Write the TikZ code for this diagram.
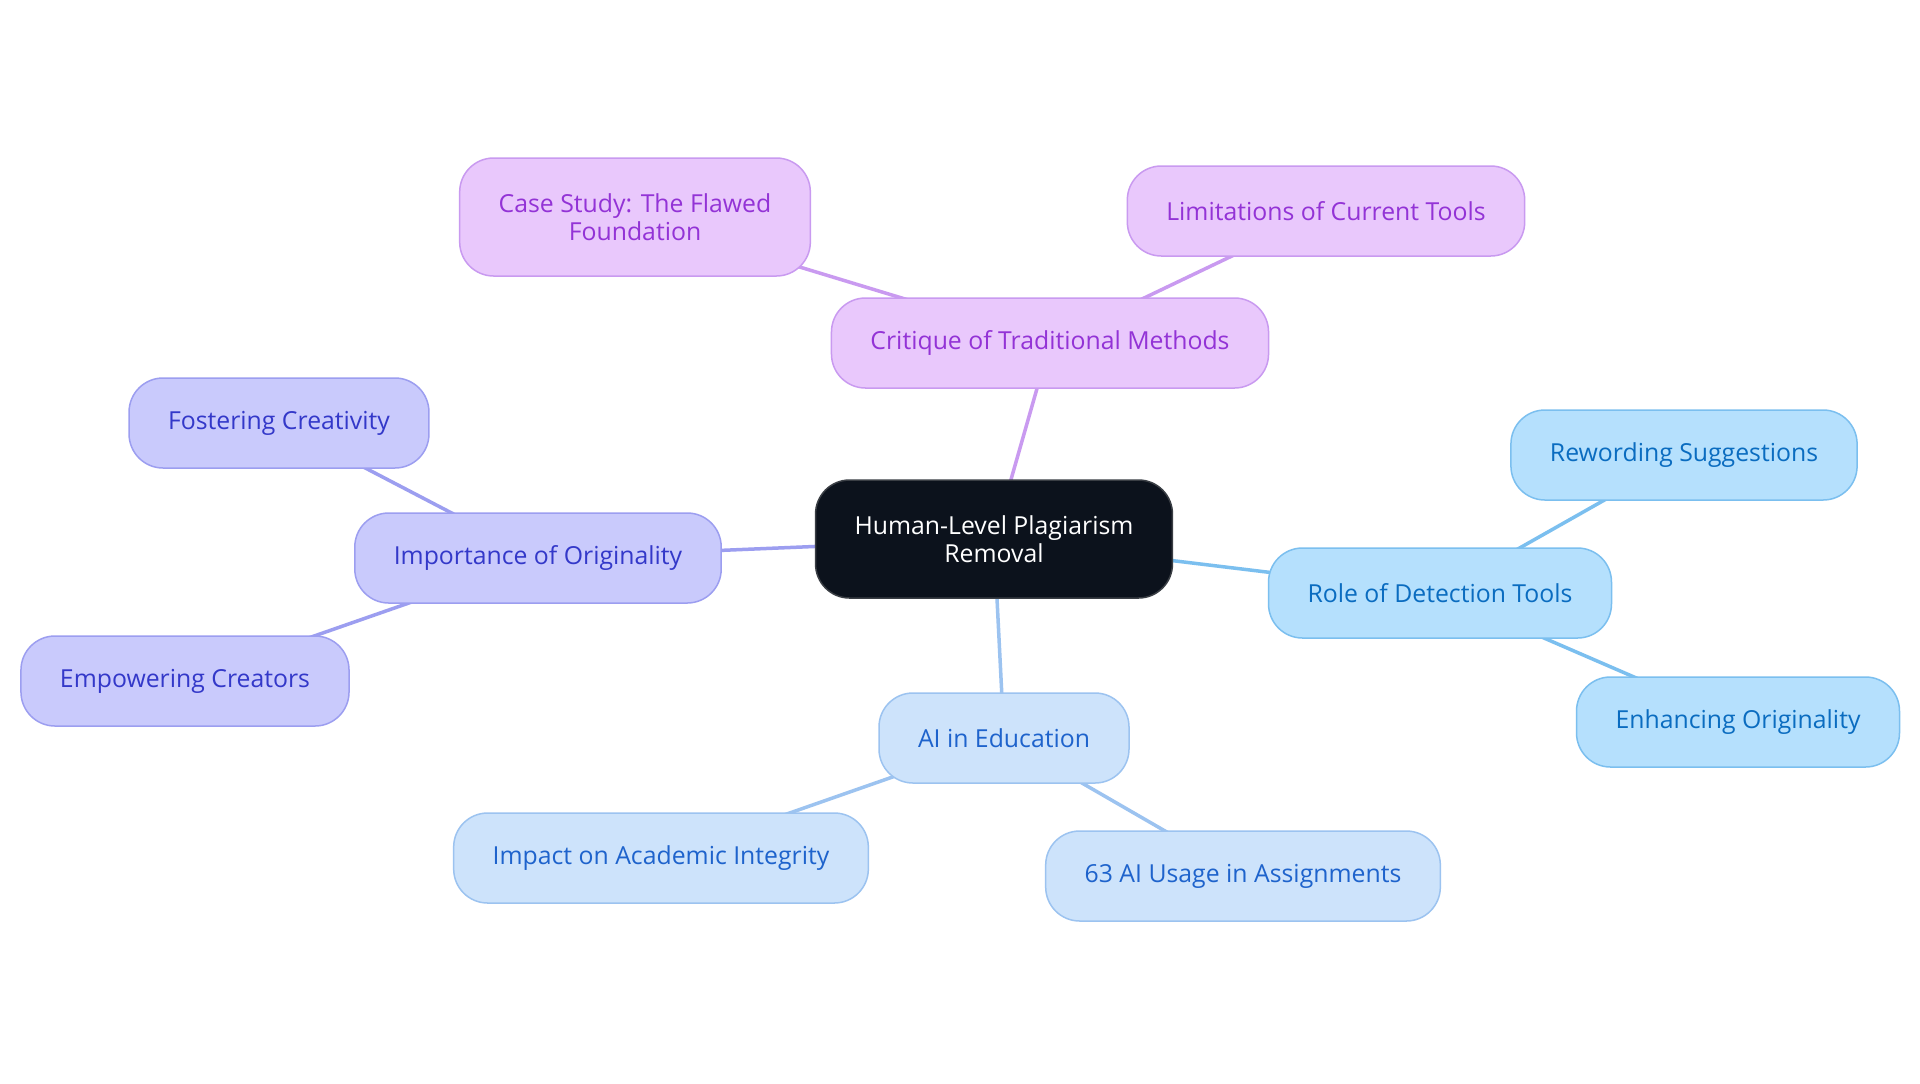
\documentclass[tikz,border=0pt]{standalone}
\usepackage{fontspec}
\setmainfont{Open Sans}
\usetikzlibrary{positioning}

\definecolor{rootfill}{HTML}{0C121C}
\definecolor{rootline}{HTML}{3A3E44}
\definecolor{critfill}{HTML}{E9C8FC}
\definecolor{critline}{HTML}{C99AF0}
\definecolor{crittext}{HTML}{9333D6}
\definecolor{origfill}{HTML}{C9CAFC}
\definecolor{origline}{HTML}{9C9EF0}
\definecolor{origtext}{HTML}{3338C9}
\definecolor{toolfill}{HTML}{B5E0FD}
\definecolor{toolline}{HTML}{7BBFEF}
\definecolor{tooltext}{HTML}{0A6CC0}
\definecolor{edufill}{HTML}{CDE3FB}
\definecolor{eduline}{HTML}{9CC3F0}
\definecolor{edutext}{HTML}{1E63CC}

\pgfdeclarelayer{bg}
\pgfsetlayers{bg,main}

\tikzset{
  mapnode/.style={rounded corners=17pt, align=center, inner xsep=19.5pt, inner ysep=4pt,
    minimum height=45pt, line width=0.75pt, font=\fontsize{12.4}{14}\selectfont},
  twoline/.style={minimum height=59pt},
  rootnode/.style={mapnode, fill=rootfill, draw=rootline, text=white},
  critnode/.style={mapnode, fill=critfill, draw=critline, text=crittext},
  orignode/.style={mapnode, fill=origfill, draw=origline, text=origtext},
  toolnode/.style={mapnode, fill=toolfill, draw=toolline, text=tooltext},
  edunode/.style={mapnode, fill=edufill, draw=eduline, text=edutext},
  link/.style={line width=1.75pt},
}

\begin{document}
\begin{tikzpicture}[x=0.5pt,y=-0.5pt]
\useasboundingbox (0,0) rectangle (1920,1083);
\begin{pgfonlayer}{bg}
\fill[white] (0,0) rectangle (1920,1083);
\end{pgfonlayer}
%%%%%%%%%%%%%%%%
\node[rootnode, twoline] (root) at (994,539) {Human-Level Plagiarism\\Removal};
%%%%%%%%%%%%%%%%
\node[critnode] (crit) at (1050,343) {Critique of Traditional Methods};
\node[critnode, twoline] (case) at (635,217) {Case Study: The Flawed\\Foundation};
\node[critnode] (limits) at (1326,211) {Limitations of Current Tools};
%%%%%%%%%%%%%%%%
\node[orignode] (orig) at (538,558) {Importance of Originality};
\node[orignode] (foster) at (279,423) {Fostering Creativity};
\node[orignode] (empower) at (185,681) {Empowering Creators};
%%%%%%%%%%%%%%%%
\node[toolnode] (tools) at (1440,593) {Role of Detection Tools};
\node[toolnode] (reword) at (1684,455) {Rewording Suggestions};
\node[toolnode] (enhance) at (1738,722) {Enhancing Originality};
%%%%%%%%%%%%%%%%
\node[edunode] (edu) at (1004,738) {AI in Education};
\node[edunode] (impact) at (661,858) {Impact on Academic Integrity};
\node[edunode] (usage) at (1243,876) {63 AI Usage in Assignments};
%%%%%%%%%%%%%%%%
\begin{pgfonlayer}{bg}
\draw[link, critline] (root.center) -- (crit.center);
\draw[link, critline] (crit.center) -- (case.center);
\draw[link, critline] (crit.center) -- (limits.center);
\draw[link, origline] (root.center) -- (orig.center);
\draw[link, origline] (orig.center) -- (foster.center);
\draw[link, origline] (orig.center) -- (empower.center);
\draw[link, toolline] (root.center) -- (tools.center);
\draw[link, toolline] (tools.center) -- (reword.center);
\draw[link, toolline] (tools.center) -- (enhance.center);
\draw[link, eduline] (root.center) -- (edu.center);
\draw[link, eduline] (edu.center) -- (impact.center);
\draw[link, eduline] (edu.center) -- (usage.center);
\end{pgfonlayer}
\end{tikzpicture}
\end{document}
